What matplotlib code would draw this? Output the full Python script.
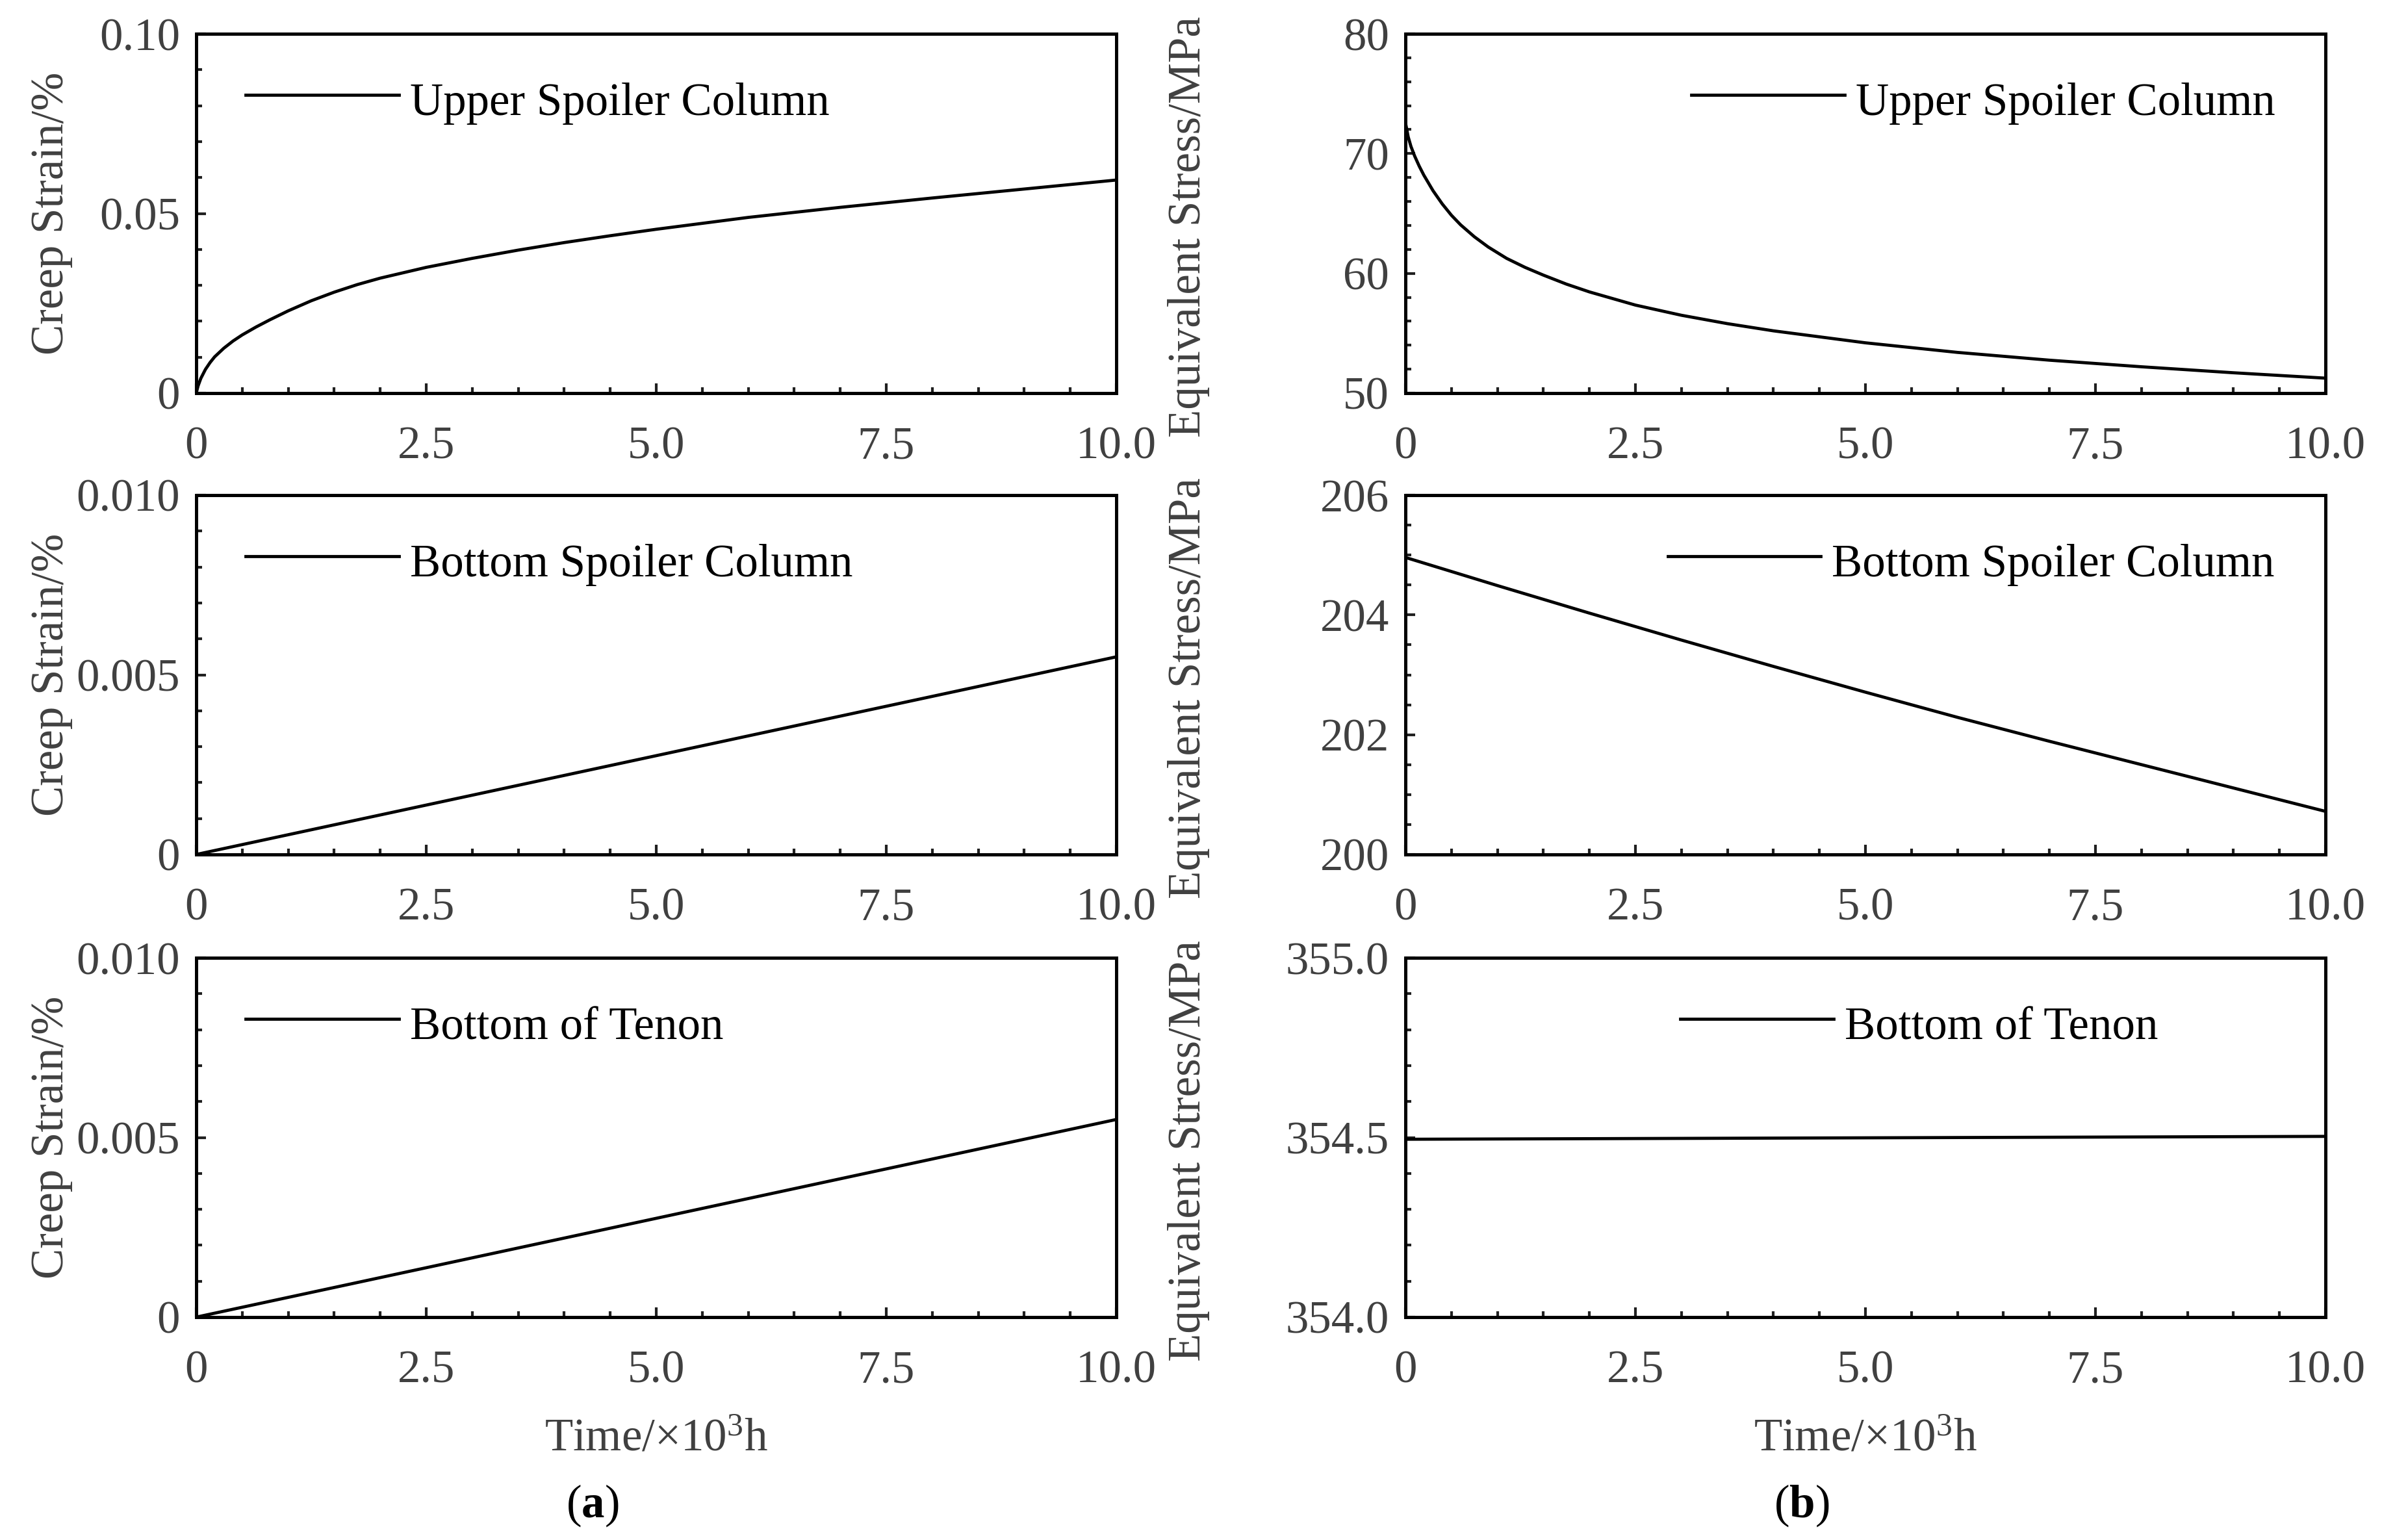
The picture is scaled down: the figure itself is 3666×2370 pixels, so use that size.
import matplotlib
matplotlib.use('Agg')
import matplotlib.pyplot as plt
from matplotlib.ticker import FixedLocator, MultipleLocator

plt.rcParams['font.family'] = ['Liberation Serif', 'DejaVu Serif']
plt.rcParams['mathtext.fontset'] = 'custom'
plt.rcParams['mathtext.rm'] = 'Liberation Serif'
plt.rcParams['mathtext.it'] = 'Liberation Serif:italic'
plt.rcParams['mathtext.bf'] = 'Liberation Serif:bold'

# --- data (time in 10^3 h) ---
upper_strain_t = [0, 0.02, 0.05, 0.1, 0.15, 0.2, 0.3, 0.4, 0.5, 0.65, 0.8, 1.0, 1.25,
                  1.5, 1.75, 2.0, 2.5, 3.0, 3.5, 4.0, 4.5, 5.0, 6.0, 7.0, 8.0, 9.0, 10.0]
upper_strain = [0, 0.0020, 0.0041, 0.0066, 0.0085, 0.0101, 0.0125, 0.0145, 0.0162,
                0.0184, 0.0204, 0.0229, 0.0257, 0.0281, 0.0302, 0.0320, 0.0350, 0.0375,
                0.0398, 0.0419, 0.0438, 0.0456, 0.0489, 0.0517, 0.0543, 0.0568, 0.0593]

bottom_strain_t = [0, 10.0]
bottom_strain = [0, 0.0055]

tenon_strain_t = [0, 10.0]
tenon_strain = [0, 0.0055]

upper_stress_t = [0, 0.03, 0.06, 0.1, 0.15, 0.2, 0.3, 0.4, 0.5, 0.6, 0.75, 0.9, 1.1,
                  1.3, 1.5, 1.75, 2.0, 2.5, 3.0, 3.5, 4.0, 5.0, 6.0, 7.0, 8.0, 9.0, 10.0]
upper_stress = [72.6, 71.4, 70.6, 69.8, 68.95, 68.2, 66.9, 65.8, 64.85, 64.05, 63.05,
                62.2, 61.25, 60.5, 59.85, 59.1, 58.45, 57.35, 56.5, 55.8, 55.2, 54.2,
                53.4, 52.75, 52.2, 51.7, 51.25]

bottom_stress_t = [0, 1, 2, 3, 4, 5, 6, 7, 8, 9, 10]
bottom_stress = [204.96, 204.49, 204.03, 203.58, 203.14, 202.71, 202.29, 201.89,
                 201.50, 201.11, 200.72]

tenon_stress_t = [0, 10.0]
tenon_stress = [354.495, 354.503]

names = ['Upper Spoiler Column', 'Bottom Spoiler Column', 'Bottom of Tenon']

x_ticks = [0, 2.5, 5.0, 7.5, 10.0]
x_tick_labels = ['0', '2.5', '5.0', '7.5', '10.0']

strain_ticks_upper = [0, 0.05, 0.10]
strain_labels_upper = ['0', '0.05', '0.10']
strain_ticks_small = [0, 0.005, 0.010]
strain_labels_small = ['0', '0.005', '0.010']
stress_ticks_upper = [50, 60, 70, 80]
stress_labels_upper = ['50', '60', '70', '80']
stress_ticks_bottom = [200, 202, 204, 206]
stress_labels_bottom = ['200', '202', '204', '206']
stress_ticks_tenon = [354.0, 354.5, 355.0]
stress_labels_tenon = ['354.0', '354.5', '355.0']

GRAY = '#404040'
W, H = 3666, 2370
fig = plt.figure(figsize=(W / 300, H / 300), dpi=300)

col_left = [302 / W, 2163 / W]
ax_w = 1416 / W
ax_h = 553 / H
row_bottom = [1 - 605 / H, 1 - 1315 / H, 1 - 2027 / H]
LEG_Y = 0.83

panels = [
    # col, row, x, y, ylim, yticks, ylabels, minor, ylabel, legend x
    (0, 0, upper_strain_t, upper_strain, (0, 0.10), strain_ticks_upper, strain_labels_upper, 0.01, 'Creep Strain/%', 0.054),
    (0, 1, bottom_strain_t, bottom_strain, (0, 0.010), strain_ticks_small, strain_labels_small, 0.001, 'Creep Strain/%', 0.054),
    (0, 2, tenon_strain_t, tenon_strain, (0, 0.010), strain_ticks_small, strain_labels_small, 0.001, 'Creep Strain/%', 0.054),
    (1, 0, upper_stress_t, upper_stress, (50, 80), stress_ticks_upper, stress_labels_upper, 2, 'Equivalent Stress/MPa', 0.311),
    (1, 1, bottom_stress_t, bottom_stress, (200, 206), stress_ticks_bottom, stress_labels_bottom, 0.5, 'Equivalent Stress/MPa', 0.285),
    (1, 2, tenon_stress_t, tenon_stress, (354.0, 355.0), stress_ticks_tenon, stress_labels_tenon, 0.1, 'Equivalent Stress/MPa', 0.299),
]

legends = []
for col, row, xs, ys, ylim, yt, yl, ymin, ylab, lx in panels:
    ax = fig.add_axes([col_left[col], row_bottom[row], ax_w, ax_h])
    ax.plot(xs, ys, color='black', lw=1.15, label=names[row])
    ax.set_xlim(0, 10)
    ax.set_ylim(*ylim)
    ax.xaxis.set_major_locator(FixedLocator(x_ticks))
    ax.set_xticklabels(x_tick_labels)
    ax.xaxis.set_minor_locator(MultipleLocator(0.5))
    ax.yaxis.set_major_locator(FixedLocator(yt))
    ax.set_yticklabels(yl)
    ax.yaxis.set_minor_locator(MultipleLocator(ymin))
    ax.tick_params(which='both', direction='in', top=False, right=False,
                   labelcolor=GRAY, labelsize=17, width=1.0, color='#202020')
    ax.tick_params(which='major', length=3.7)
    ax.tick_params(which='minor', length=2.2)
    ax.tick_params(axis='x', pad=12)
    ax.tick_params(axis='y', pad=6)
    for sp in ax.spines.values():
        sp.set_linewidth(1.2)
        sp.set_color('black')
    ax.set_ylabel(ylab, color=GRAY, fontsize=17)
    if col == 0:
        ax.yaxis.set_label_coords(-0.134, 0.5)
    else:
        ax.yaxis.set_label_coords(-0.2126, 0.462)
    leg = ax.legend(loc='center left', bbox_to_anchor=(lx, LEG_Y), frameon=False,
                    fontsize=17, handlelength=3.33, handletextpad=0.24,
                    handleheight=1.29, borderpad=0, borderaxespad=0)
    legends.append((ax, leg, lx))

# put each legend's line exactly at LEG_Y (text sits lower, as in the original)
fig.canvas.draw()
for ax, leg, lx in legends:
    hl = leg.legend_handles[0]
    y_now = hl.get_transform().transform(hl.get_xydata())[:, 1].mean()
    y_goal = ax.transAxes.transform((0, LEG_Y))[1]
    dy = (y_goal - y_now) / ax.bbox.height
    leg.set_bbox_to_anchor((lx, LEG_Y + dy), transform=ax.transAxes)

for col, tag in enumerate(['a', 'b']):
    xc = col_left[col] + ax_w / 2
    fig.text(xc, 1 - 2233 / H, r'Time/×$10^{3}$h', ha='center', va='baseline',
             fontsize=17, color=GRAY)
    fig.text(xc - 98 / W, 1 - 2335 / H, r'($\mathbf{' + tag + r'}$)',
             ha='center', va='baseline', fontsize=17, color='black')

fig.savefig('out.png', dpi=300)
